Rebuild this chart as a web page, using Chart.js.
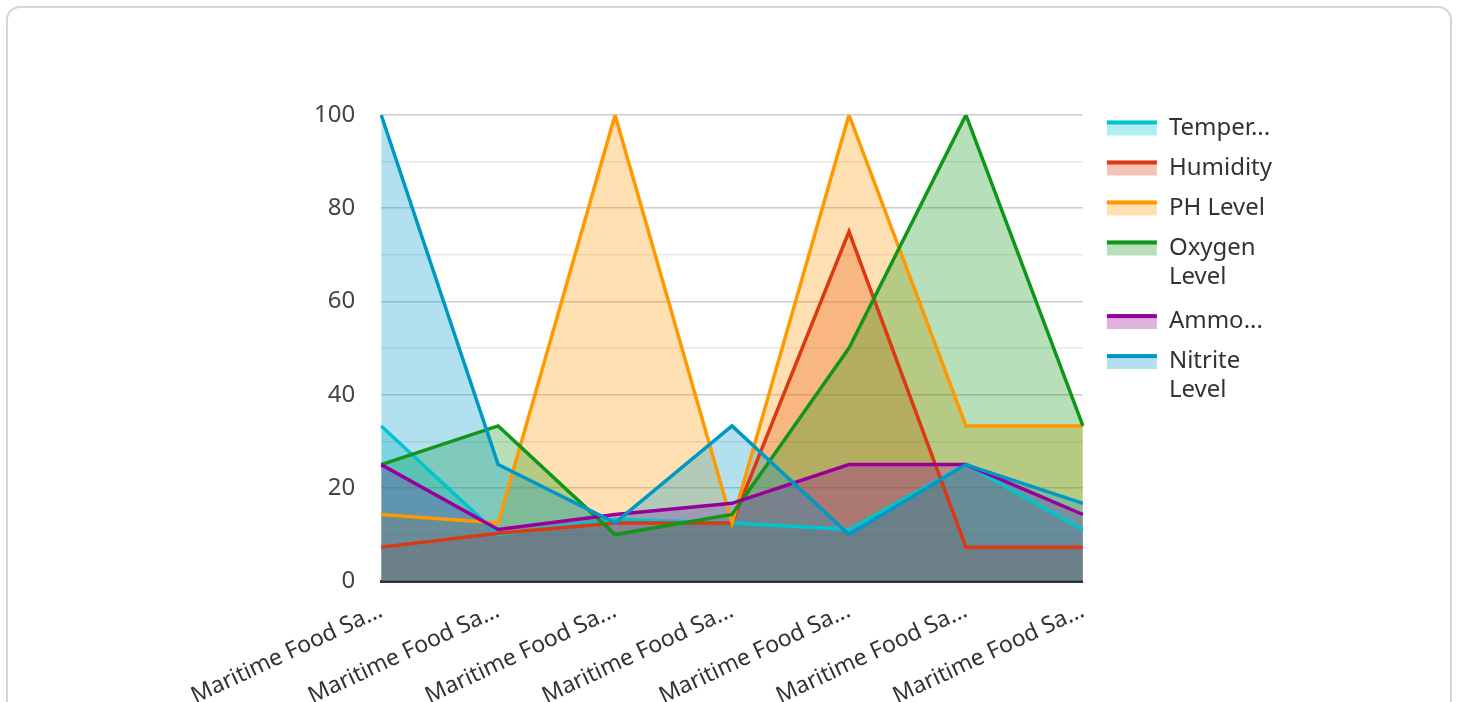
<!DOCTYPE html>
<html>
<head>
<meta charset="utf-8">
<script src="https://cdn.jsdelivr.net/npm/chart.js@4.4.1/dist/chart.umd.min.js"></script>
<style>
  html, body { margin: 0; padding: 0; width: 1458px; height: 702px; overflow: hidden; background: #fff; }
  #card { position: absolute; left: 6px; top: 6px; width: 1442px; height: 760px; border: 2px solid #d6d6d6; border-radius: 14px; }
  #wrap { position: absolute; left: 0; top: 0; width: 1458px; height: 760px; }
</style>
</head>
<body>
<div id="card"></div>
<div id="wrap"><canvas id="myChart"></canvas></div>
<script>
// categorie (etichette asse x, troncate come nel grafico)
var categories = ['Maritime Food Sa...', 'Maritime Food Sa...', 'Maritime Food Sa...', 'Maritime Food Sa...',
                  'Maritime Food Sa...', 'Maritime Food Sa...', 'Maritime Food Sa...'];

// serie
var seriesNames = ['Temperature', 'Humidity', 'PH Level', 'Oxygen Level', 'Ammonia Level', 'Nitrite Level'];
var legendLabels = ['Temper...', 'Humidity', 'PH Level', ['Oxygen', 'Level'], 'Ammo...', ['Nitrite', 'Level']];

var temperature = [33.3, 10, 13.3, 12.5, 11.1, 25, 11.1];
var humidity    = [7.3, 10.3, 12.5, 12.5, 75, 7.3, 7.3];
var phLevel     = [14.3, 12.5, 100, 12.5, 100, 33.3, 33.3];
var oxygen      = [25, 33.3, 10, 14.3, 50, 100, 33.3];
var ammonia     = [25, 11.1, 14.3, 16.7, 25, 25, 14.3];
var nitrite     = [100, 25, 12.5, 33.3, 10, 25, 16.7];

var yTicks = [0, 20, 40, 60, 80, 100];

var lineColors = ['#00c5cd', '#dc3912', '#ff9900', '#109618', '#990099', '#0099c6'];
var fillColors = ['rgba(0,197,205,0.3)', 'rgba(220,57,18,0.3)', 'rgba(255,153,0,0.3)',
                  'rgba(16,150,24,0.3)', 'rgba(153,0,153,0.3)', 'rgba(0,153,198,0.3)'];

var allSeries = [temperature, humidity, phLevel, oxygen, ammonia, nitrite];

var datasets = allSeries.map(function (values, i) {
  return {
    label: seriesNames[i],
    data: values,
    borderColor: lineColors[i],
    backgroundColor: fillColors[i],
    borderWidth: 3.5,
    fill: 'origin',
    tension: 0,
    pointRadius: 0,
    pointHoverRadius: 0,
    order: allSeries.length - i
  };
});

// legenda: sposta un po' e disegna la linea sopra il riquadro
var legendTweak = {
  id: 'legendTweak',
  afterLayout: function (chart) {
    var lg = chart.legend;
    if (!lg) return;
    lg.top -= 15; lg.bottom -= 15;
    lg.left += 8; lg.right += 8;
  },
  afterDraw: function (chart) {
    var lg = chart.legend;
    if (!lg || !lg.legendHitBoxes) return;
    var ctx = chart.ctx;
    lg.legendHitBoxes.forEach(function (hb, i) {
      var item = lg.legendItems[i];
      var top = hb.top + Math.max((24 - 15) / 2, 0);
      ctx.save();
      ctx.fillStyle = item.strokeStyle;
      ctx.fillRect(hb.left, top, 50, 4);
      ctx.restore();
    });
  }
};

Chart.defaults.font.family = '"Noto Sans", sans-serif';

var ctx = document.getElementById('myChart').getContext('2d');
var myChart = new Chart(ctx, {
  type: 'line',
  data: { labels: categories, datasets: datasets },
  plugins: [legendTweak],
  options: {
    responsive: true,
    maintainAspectRatio: false,
    animation: false,
    layout: { padding: { left: 288, right: 184, top: 115, bottom: 34 } },
    plugins: {
      filler: { drawTime: 'beforeDatasetsDraw' },
      tooltip: { enabled: false },
      legend: {
        position: 'right',
        align: 'start',
        labels: {
          boxWidth: 50,
          boxHeight: 15,
          padding: 16,
          color: '#333',
          font: { size: 24, lineHeight: 1.2 },
          generateLabels: function (chart) {
            return chart.data.datasets.map(function (ds, i) {
              return {
                text: legendLabels[i],
                fillStyle: ds.backgroundColor,
                strokeStyle: ds.borderColor,
                lineWidth: 0,
                hidden: !chart.isDatasetVisible(i),
                datasetIndex: i,
                fontColor: '#333'
              };
            });
          }
        }
      }
    },
    scales: {
      x: {
        grid: { display: false, drawTicks: false },
        border: { display: true, color: '#333', width: 3 },
        ticks: { color: '#333', font: { size: 23 }, minRotation: 25, maxRotation: 25, padding: 16, autoSkip: false }
      },
      y: {
        min: 0,
        max: 100,
        border: { display: false },
        grid: {
          drawTicks: false,
          lineWidth: 1.5,
          color: function (c) { return c.tick && c.tick.value % 20 === 0 ? '#cccccc' : '#e8e8e8'; }
        },
        ticks: {
          stepSize: 10,
          padding: 26,
          color: '#444',
          font: { size: 24 },
          callback: function (v) { return yTicks.indexOf(v) >= 0 ? String(v) : ''; }
        }
      }
    }
  }
});
</script>
</body>
</html>
